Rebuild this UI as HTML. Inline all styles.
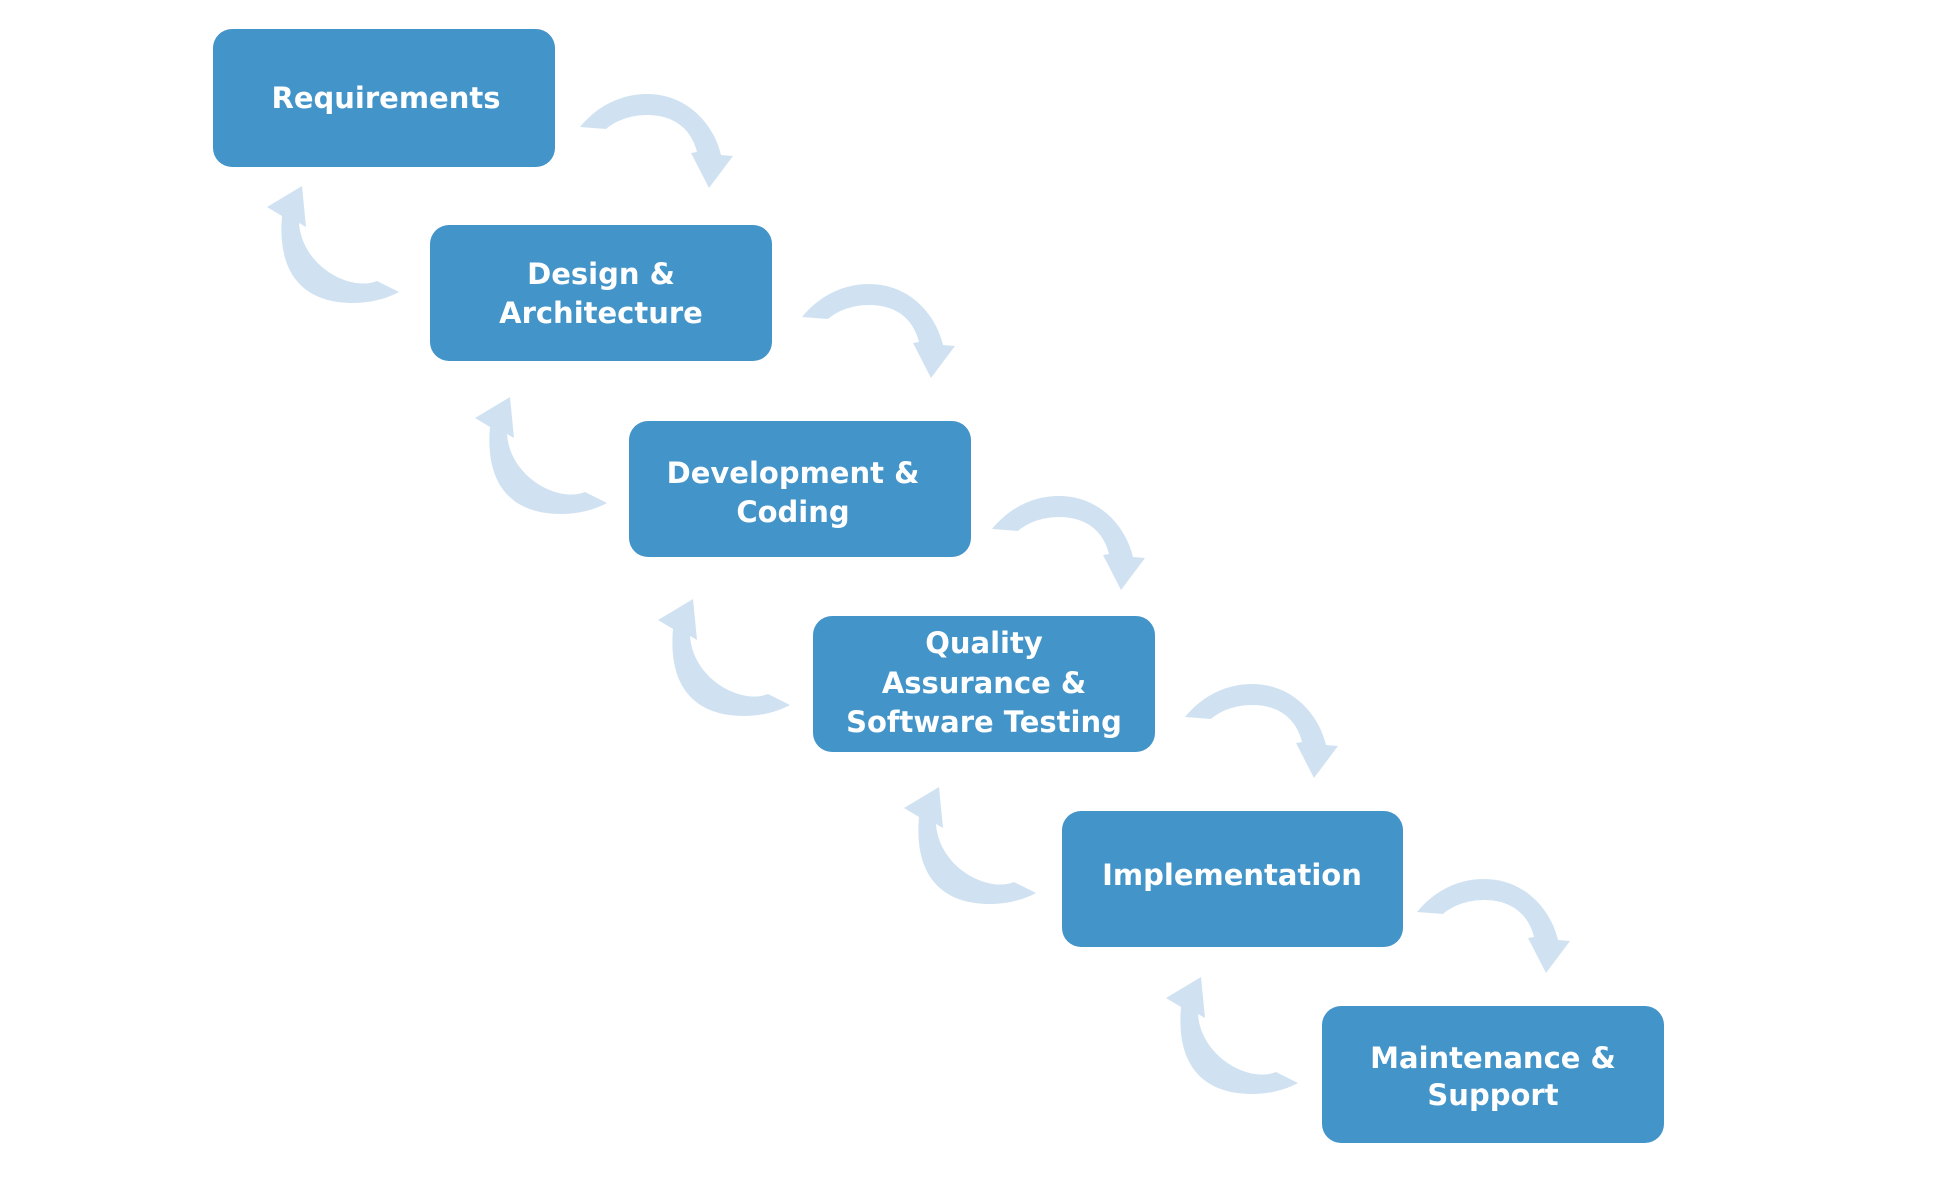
<!DOCTYPE html>
<html>
<head>
<meta charset="utf-8">
<style>
  html, body { margin: 0; padding: 0; background: #ffffff; }
  body { width: 1952px; height: 1180px; overflow: hidden; }
  svg { display: block; }
  .box { fill: #4394C9; }
  .arr { fill: #D0E2F1; }
  .t { font-family: "DejaVu Sans", "Liberation Sans", sans-serif; font-weight: bold; font-size: 29px; fill: #ffffff; text-anchor: middle; }
</style>
</head>
<body>
<svg width="1952" height="1180" viewBox="0 0 1952 1180" xmlns="http://www.w3.org/2000/svg">
  <defs>
    <path id="ra" d="M0,0 C18,-22 42,-33 67,-33 C108,-33 134,-2 141,28 L153,29 L129,61 L111,26 L117,25 C111,1 93,-12 67,-12 C50,-12 35,-6 26,2 Z"/>
    <path id="la" d="M-97,-106 L-132,-85 L-117,-76 C-122,-20 -97,11 -46,11 C-29,11 -13,7 0,0 L-22,-11 C-49,0 -97,-26 -100,-69 L-93,-65 Z"/>
  </defs>

  <!-- right (forward) arrows -->
  <use href="#ra" class="arr" transform="translate(580,127)"/>
  <use href="#ra" class="arr" transform="translate(802,317)"/>
  <use href="#ra" class="arr" transform="translate(992,529)"/>
  <use href="#ra" class="arr" transform="translate(1185,717)"/>
  <use href="#ra" class="arr" transform="translate(1417,912)"/>

  <!-- left (back) arrows -->
  <use href="#la" class="arr" transform="translate(399,292)"/>
  <use href="#la" class="arr" transform="translate(607,503)"/>
  <use href="#la" class="arr" transform="translate(790,705)"/>
  <use href="#la" class="arr" transform="translate(1036,893)"/>
  <use href="#la" class="arr" transform="translate(1298,1083)"/>

  <!-- boxes -->
  <rect class="box" x="213" y="29" width="342" height="138" rx="19" ry="19"/>
  <rect class="box" x="430" y="225" width="342" height="136" rx="19" ry="19"/>
  <rect class="box" x="629" y="421" width="342" height="136" rx="19" ry="19"/>
  <rect class="box" x="813" y="616" width="342" height="136" rx="19" ry="19"/>
  <rect class="box" x="1062" y="811" width="341" height="136" rx="19" ry="19"/>
  <rect class="box" x="1322" y="1006" width="342" height="137" rx="19" ry="19"/>

  <!-- labels -->
  <text class="t" x="386" y="108">Requirements</text>

  <text class="t" x="601" y="284">Design &amp;</text>
  <text class="t" x="601" y="323">Architecture</text>

  <text class="t" x="793" y="483">Development &amp;</text>
  <text class="t" x="793" y="522">Coding</text>

  <text class="t" x="984" y="653">Quality</text>
  <text class="t" x="984" y="693">Assurance &amp;</text>
  <text class="t" x="984" y="732">Software Testing</text>

  <text class="t" x="1232" y="885">Implementation</text>

  <text class="t" x="1493" y="1068">Maintenance &amp;</text>
  <text class="t" x="1493" y="1105">Support</text>
</svg>
</body>
</html>
